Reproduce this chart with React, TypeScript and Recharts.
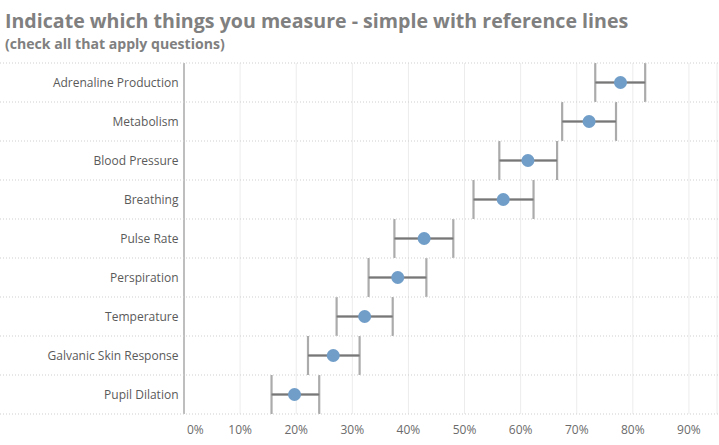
import React from 'react';
import { ScatterChart, Scatter, XAxis, YAxis, CartesianGrid, ErrorBar } from 'recharts';

const categories = [
  'Adrenaline Production',
  'Metabolism',
  'Blood Pressure',
  'Breathing',
  'Pulse Rate',
  'Perspiration',
  'Temperature',
  'Galvanic Skin Response',
  'Pupil Dilation',
];
const values = [0.778, 0.722, 0.613, 0.569, 0.428, 0.381, 0.322, 0.266, 0.197];
const lowValues = [0.733, 0.674, 0.562, 0.516, 0.375, 0.329, 0.272, 0.221, 0.156];
const highValues = [0.822, 0.770, 0.665, 0.623, 0.480, 0.432, 0.372, 0.313, 0.241];
const xTicks = [0, 0.1, 0.2, 0.3, 0.4, 0.5, 0.6, 0.7, 0.8, 0.9];

const data = categories.map((name, i) => ({
  name,
  pos: i + 0.5,
  value: values[i],
  err: [values[i] - lowValues[i], highValues[i] - values[i]],
}));

const yTicks: number[] = [];
for (let i = 0; i <= categories.length; i++) {
  yTicks.push(i);
  if (i < categories.length) yTicks.push(i + 0.5);
}

const W = 719;
const H = 445;
const FONT = '"Open Sans", Lato, sans-serif';

const YTick = (props: any) => {
  const { x, y, payload } = props;
  const v = payload.value;
  if (Number.isInteger(v)) {
    return (
      <line x1={0} x2={W} y1={y} y2={y} stroke="#cfcfcf" strokeWidth={1} strokeDasharray="1 2" />
    );
  }
  const idx = Math.floor(v);
  return (
    <text x={x + 2.5} y={y} dy={4} textAnchor="end" fontSize={12} fill="#5a5a5a" fontFamily={FONT}>
      {categories[idx]}
    </text>
  );
};

const XTick = (props: any) => {
  const { x, y, payload } = props;
  const v = payload.value;
  const isZero = v === 0;
  return (
    <text
      x={isZero ? x + 3 : x}
      y={y}
      dy={12}
      textAnchor={isZero ? 'start' : 'middle'}
      fontSize={12}
      fill="#6b6b6b"
      fontFamily={FONT}
    >
      {`${Math.round(v * 100)}%`}
    </text>
  );
};

const Dot = (props: any) => {
  const { cx, cy } = props;
  return <circle cx={cx} cy={cy} r={6.5} fill="#719ec9" />;
};

export default function App() {
  return (
    <div style={{ position: 'absolute', left: 0, top: 0, width: W, height: H, background: '#fff' }}>
      <svg width={W} height={60} style={{ position: 'absolute', left: 0, top: 0 }}>
        <text x={5} y={28} fontSize={19.6} fontWeight="bold" fill="#808080" fontFamily={FONT}>
          Indicate which things you measure - simple with reference lines
        </text>
        <text x={5} y={49} fontSize={14.1} fontWeight="bold" fill="#808080" fontFamily={FONT}>
          (check all that apply questions)
        </text>
      </svg>
      <div style={{ position: 'absolute', left: 0, top: 0 }}>
        <ScatterChart width={W} height={H} margin={{ top: 63, right: 2, bottom: 0, left: 0 }}>
          <CartesianGrid horizontal={false} vertical stroke="#ececec" strokeWidth={1} />
          <XAxis
            type="number"
            dataKey="value"
            domain={[0, 0.95]}
            ticks={xTicks}
            interval={0}
            axisLine={false}
            tickLine={false}
            height={31}
            tick={<XTick />}
          />
          <YAxis
            type="number"
            dataKey="pos"
            domain={[0, categories.length]}
            reversed
            ticks={yTicks}
            interval={0}
            width={184}
            axisLine={{ stroke: '#ababab', strokeWidth: 1.5 }}
            tickLine={false}
            tickSize={6}
            tick={<YTick />}
          />
          <Scatter data={data} isAnimationActive={false} shape={<Dot />}>
            <ErrorBar dataKey="err" direction="x" width={19.5} stroke="#ababab" strokeWidth={2.2} />
            <ErrorBar dataKey="err" direction="x" width={0} stroke="#777777" strokeWidth={2} />
          </Scatter>
        </ScatterChart>
      </div>
    </div>
  );
}
